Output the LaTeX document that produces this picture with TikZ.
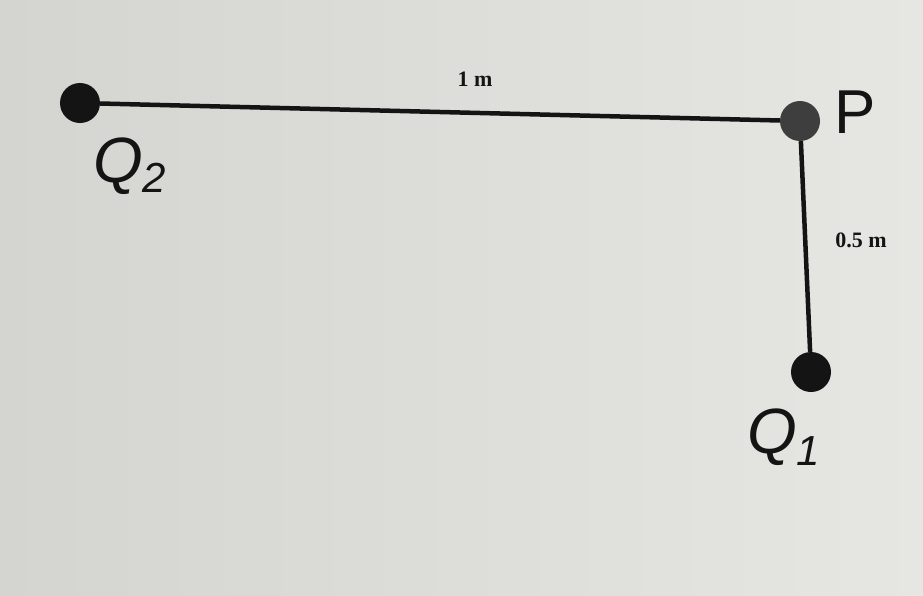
\documentclass[tikz,border=0pt]{standalone}
\usepackage{fontspec}
\setmainfont{Liberation Serif}
\newfontfamily\lsans{Liberation Sans}
\definecolor{paperL}{RGB}{212,212,208}
\definecolor{paperR}{RGB}{230,230,227}
\definecolor{pgray}{RGB}{62,62,62}
\definecolor{ink}{RGB}{20,20,20}
\begin{document}
\begin{tikzpicture}[x=1pt,y=-1pt,
  charge/.style={circle,fill=ink,inner sep=0pt,minimum size=40pt},
  rod/.style={draw=ink,line width=4.5pt},
  dimlabel/.style={font=\fontsize{22}{22}\selectfont\bfseries,text=ink,inner sep=0pt},
  biglabel/.style={font=\lsans\fontsize{64}{64}\selectfont,text=ink,inner sep=0pt,anchor=base west}]
\shade[left color=paperL,right color=paperR] (0,0) rectangle (923,595);
\useasboundingbox (0,0) rectangle (923,595);
\node[charge] (q2) at (80,103) {};
\node[charge,fill=pgray] (p) at (800,121) {};
\node[charge] (q1) at (811,372) {};
\draw[rod] (q2) -- (p);
\draw[rod] (p) -- (q1);
\node[dimlabel] (l1) at (475,79) {1 m};
\node[dimlabel] (l05) at (861,240) {0.5 m};
\node[biglabel,font=\lsans\fontsize{62}{62}\selectfont] (lp) at (834,133) {P};
\node[biglabel] (lq2) at (93,182) {\itshape Q\raisebox{-10pt}{\fontsize{42}{42}\selectfont 2}};
\node[biglabel] (lq1) at (747,453) {\itshape Q\raisebox{-12pt}{\fontsize{42}{42}\selectfont 1}};
\end{tikzpicture}
\end{document}
